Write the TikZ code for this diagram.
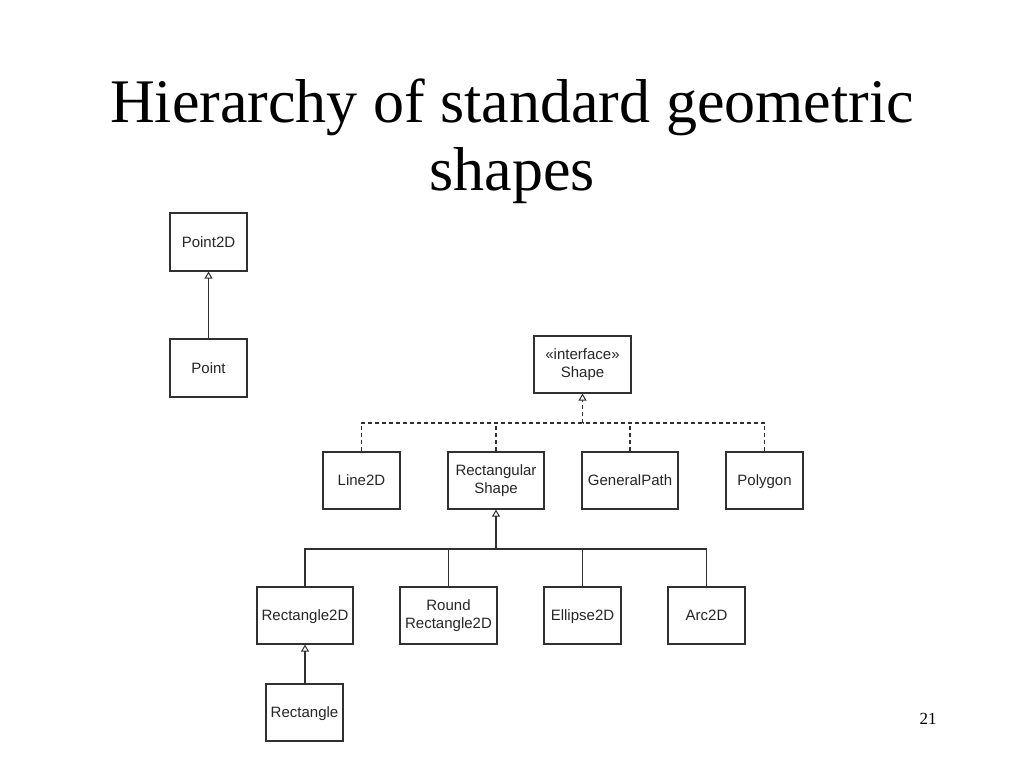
\documentclass[tikz,border=0pt]{standalone}
\usepackage{fontspec}
\setmainfont{Liberation Serif}
\setsansfont{Liberation Sans}
\usetikzlibrary{arrows.meta}
\definecolor{ln}{HTML}{303030}
\tikzset{
  cls/.style={draw=ln, line width=1.2pt, rectangle, inner sep=1pt, minimum height=57pt,
    align=center, font=\sffamily\fontsize{15}{17.5}\selectfont, text=black!85},
  one/.style={text height=11pt, text depth=1pt},
  inh/.style={draw=ln, line width=1.2pt, -{Triangle[open, length=7pt, width=8pt, line width=1pt]}},
  link/.style={draw=ln, line width=1.2pt},
  dlink/.style={draw=ln, line width=1.2pt, dash pattern=on 4pt off 3pt},
}
\begin{document}
\begin{tikzpicture}[x=1pt,y=-1pt]
\useasboundingbox (0,0) rectangle (1024,768);
\fill[white] (0,0) rectangle (1024,768);
% title
\node[anchor=base, font=\fontsize{62}{70}\selectfont] (t1) at (512,122) {Hierarchy of standard geometric};
\node[anchor=base, font=\fontsize{62}{70}\selectfont] (t2) at (512,190) {shapes};
\node[anchor=base, font=\fontsize{17}{20}\selectfont] (pg) at (928,724) {21};
% boxes
\node[cls, one, minimum width=77pt, minimum height=58pt] (p2d) at (208.5,242) {Point2D};
\node[cls, one, minimum width=77pt, minimum height=58pt] (pt) at (208.5,368) {Point};
\node[cls, minimum width=97pt] (shape) at (582.5,364.5) {«interface»\\Shape};
\node[cls, one, minimum width=77pt] (l2d) at (361.5,480.5) {Line2D};
\node[cls, minimum width=96pt] (rs) at (496,480.5) {Rectangular\\Shape};
\node[cls, one, minimum width=96pt] (gp) at (630,480.5) {GeneralPath};
\node[cls, one, minimum width=77pt] (poly) at (764.5,480.5) {Polygon};
\node[cls, one, minimum width=96pt] (r2d) at (305,615.5) {Rectangle2D};
\node[cls, minimum width=97pt] (rr2d) at (448.5,615.5) {Round\\Rectangle2D};
\node[cls, one, minimum width=77pt] (e2d) at (582.5,615.5) {Ellipse2D};
\node[cls, one, minimum width=77pt] (a2d) at (706.5,615.5) {Arc2D};
\node[cls, one, minimum width=77pt] (rect) at (304.5,712.5) {Rectangle};
% connectors
\draw[inh] (pt.north) -- (p2d.south);
\coordinate (bus1) at (582.5,423);
\draw[dlink] (l2d.north) |- (bus1);
\draw[dlink] (poly.north) |- (bus1);
\draw[dlink] (rs.north) -- (rs.north |- bus1);
\draw[dlink] (gp.north) -- (gp.north |- bus1);
\draw[inh, dash pattern=on 4pt off 3pt] (bus1) -- (shape.south);
\coordinate (bus2) at (496,549);
\draw[link] (r2d.north) |- (bus2);
\draw[link] (a2d.north) |- (bus2);
\draw[link] (rr2d.north) -- (rr2d.north |- bus2);
\draw[link] (e2d.north) -- (e2d.north |- bus2);
\draw[inh] (bus2) -- (rs.south);
\draw[inh] (rect.north -| r2d.south) -- (r2d.south);
\end{tikzpicture}
\end{document}
